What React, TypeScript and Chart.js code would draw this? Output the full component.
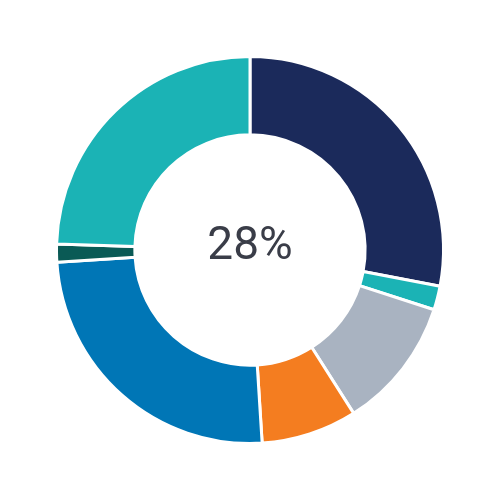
import React, { useEffect, useRef } from 'react';
import { Chart, registerables, Plugin } from 'chart.js';

Chart.register(...registerables);

const labels = ['A', 'B', 'C', 'D', 'E', 'F', 'G'];
const values = [28, 2, 11, 8, 25, 1.5, 24.5];
const colors = ['#1b2a5b', '#1bb3b5', '#a9b3c1', '#f47d20', '#0076b6', '#0a5a55', '#1bb3b5'];
const centerLabel = '28%';

const centerText: Plugin<'doughnut'> = {
    id: 'centerText',
    afterDraw(chart) {
        const { ctx, chartArea } = chart;
        const x = (chartArea.left + chartArea.right) / 2;
        const y = (chartArea.top + chartArea.bottom) / 2;
        ctx.save();
        ctx.font = '46px Roboto, "Liberation Sans", sans-serif';
        ctx.fillStyle = '#3a3d48';
        ctx.textAlign = 'center';
        ctx.textBaseline = 'middle';
        ctx.fillText(centerLabel, x, y - 3);
        ctx.restore();
    }
};

export default function App() {
    const canvasRef = useRef<HTMLCanvasElement>(null);

    useEffect(() => {
        if (!canvasRef.current) return;
        const chart = new Chart(canvasRef.current, {
            type: 'doughnut',
            data: {
                labels,
                datasets: [
                    {
                        data: values,
                        backgroundColor: colors,
                        borderColor: '#ffffff',
                        borderWidth: 3
                    }
                ]
            },
            options: {
                responsive: true,
                maintainAspectRatio: false,
                animation: false,
                cutout: '59.5%',
                layout: { padding: 55 },
                plugins: {
                    legend: { display: false },
                    tooltip: { enabled: false }
                }
            },
            plugins: [centerText]
        });
        return () => chart.destroy();
    }, []);

    return (
        <div style={{ position: 'absolute', left: 0, top: 0, width: 500, height: 500 }}>
            <canvas ref={canvasRef} />
        </div>
    );
}
